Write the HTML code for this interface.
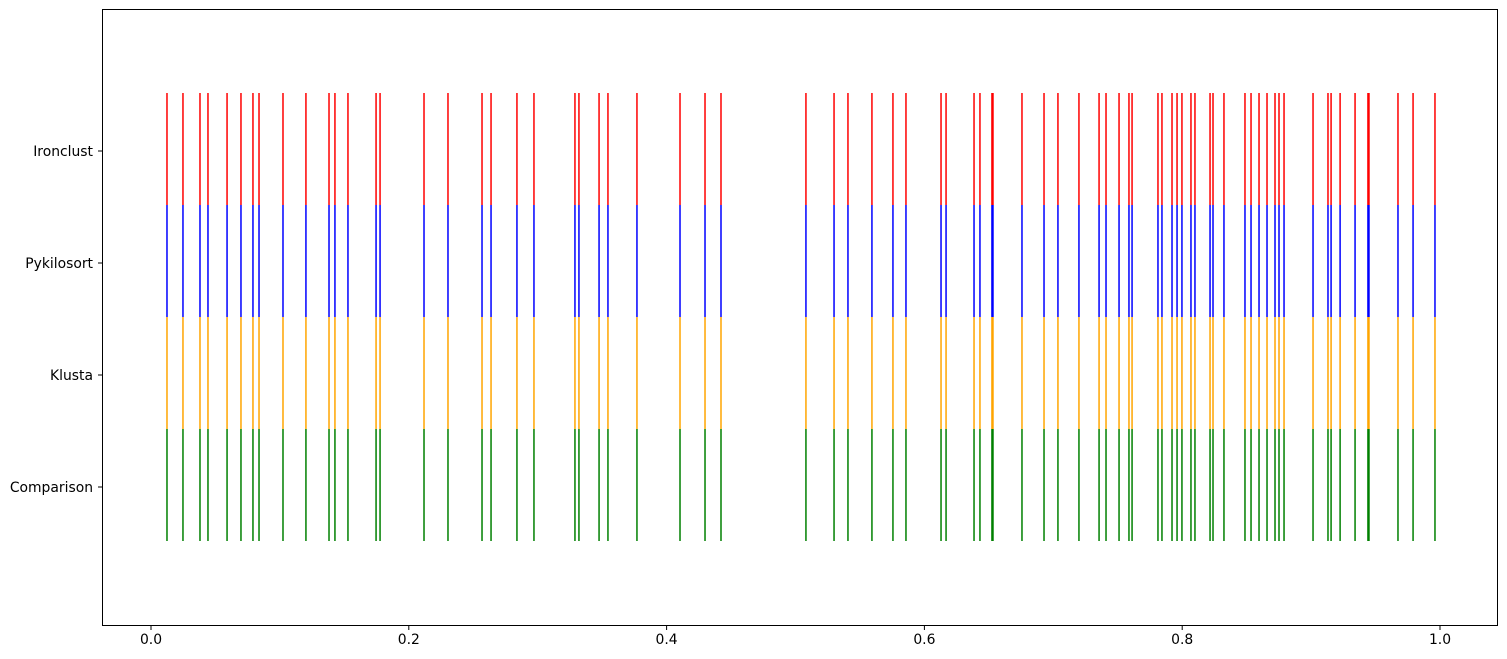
<!DOCTYPE html>
<html><head><meta charset="utf-8"><style>
body{margin:0;background:#fff;}
svg{display:block;font-family:"DejaVu Sans","Liberation Sans",sans-serif;}
</style></head><body>
<svg id="chart" width="1507" height="659" xmlns="http://www.w3.org/2000/svg">
<rect x="102.5" y="9.5" width="1395" height="616" fill="none" stroke="#000" stroke-width="1"/>
<g id="marks"></g><g id="axes"></g>
</svg>
<script>
const rowNames = ["Ironclust","Pykilosort","Klusta","Comparison"];
const rowColors = ["red","blue","orange","green"];
const events = [0.0124,0.0248,0.0380,0.0442,0.0590,0.0698,0.0791,0.0838,0.1024,0.1202,0.1381,0.1427,0.1528,0.1746,0.1777,0.2118,0.2304,0.2568,0.2638,0.2839,0.2971,0.3289,0.3320,0.3476,0.3545,0.3770,0.4104,0.4298,0.4422,0.5081,0.5299,0.5407,0.5593,0.5756,0.5857,0.6129,0.6168,0.6385,0.6431,0.6524,0.6532,0.6757,0.6928,0.7036,0.7199,0.7355,0.7409,0.7510,0.7587,0.7611,0.7812,0.7843,0.7921,0.7960,0.7998,0.8068,0.8099,0.8216,0.8239,0.8324,0.8487,0.8534,0.8596,0.8658,0.8720,0.8751,0.8790,0.9015,0.9131,0.9155,0.9225,0.9341,0.9441,0.9449,0.9674,0.9791,0.9961];
const xTicks = [0.0,0.2,0.4,0.6,0.8,1.0];
const xTickLabels = ["0.0","0.2","0.4","0.6","0.8","1.0"];

const NS="http://www.w3.org/2000/svg";
const xs = v => 151 + v*1289;
const rowCenter = i => 151 + i*112;
const rowHalf = 56;
const lineOffset = -2;
const marks=document.getElementById('marks'), axes=document.getElementById('axes');
rowNames.forEach((name,i)=>{
  const g=document.createElementNS(NS,'g');
  
  
  events.forEach(v=>{
    const l=document.createElementNS(NS,'line');
    
    
    const x=xs(v);
    l.setAttribute('x1',x);l.setAttribute('x2',x);
    l.setAttribute('y1',rowCenter(i)-rowHalf+lineOffset);l.setAttribute('y2',rowCenter(i)+rowHalf+lineOffset);
    l.setAttribute('stroke',rowColors[i]);l.setAttribute('stroke-width','1.5');
    g.appendChild(l);
  });
  marks.appendChild(g);
  const t=document.createElementNS(NS,'line');
  
  
  t.setAttribute('x1',98);t.setAttribute('x2',102);t.setAttribute('y1',rowCenter(i));t.setAttribute('y2',rowCenter(i));t.setAttribute('stroke','#000');
  axes.appendChild(t);
  const tx=document.createElementNS(NS,'text');
  
  
  tx.setAttribute('x',93);tx.setAttribute('y',rowCenter(i)+5);tx.setAttribute('text-anchor','end');tx.setAttribute('font-size','13.9');
  tx.textContent=name;axes.appendChild(tx);
});
xTicks.forEach((v,i)=>{
  const t=document.createElementNS(NS,'line');
  
  
  t.setAttribute('x1',xs(v));t.setAttribute('x2',xs(v));t.setAttribute('y1',626);t.setAttribute('y2',630);t.setAttribute('stroke','#000');
  axes.appendChild(t);
  const tx=document.createElementNS(NS,'text');
  
  
  tx.setAttribute('x',xs(v));tx.setAttribute('y',644);tx.setAttribute('text-anchor','middle');tx.setAttribute('font-size','13.9');
  tx.textContent=xTickLabels[i];axes.appendChild(tx);
});
</script>
</body></html>
